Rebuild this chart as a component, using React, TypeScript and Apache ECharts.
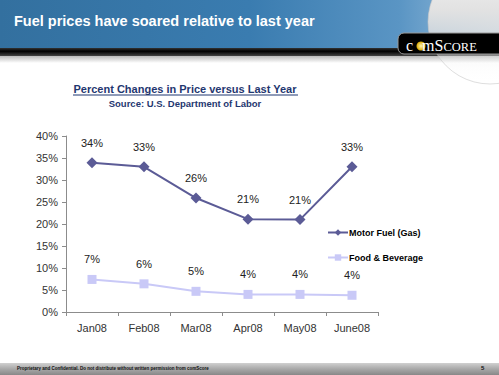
import React, { useEffect, useRef } from "react";
import * as echarts from "echarts";

const categories = ["Jan08", "Feb08", "Mar08", "Apr08", "May08", "June08"];
const motorFuel = [33.9, 33.0, 25.9, 21.1, 21.0, 33.0];
const foodBeverage = [7.4, 6.4, 4.7, 4.0, 4.0, 3.8];
const yTicks = { min: 0, max: 40, interval: 5 };

const FONT = "'Liberation Sans', Arial, sans-serif";

export default function App() {
  const ref = useRef<HTMLDivElement>(null);
  useEffect(() => {
    if (!ref.current) return;
    const chart = echarts.init(ref.current, null, { renderer: "svg" });
    const lbl = (v: any) => Math.round(v.value) + "%";
    chart.setOption({
      animation: false,
      backgroundColor: "#ffffff",
      textStyle: { fontFamily: FONT },
      grid: { left: 66, right: 121, top: 136, bottom: 63, containLabel: false },
      xAxis: {
        type: "category",
        data: categories,
        boundaryGap: true,
        axisLine: { lineStyle: { color: "#8c8c8c", width: 1 } },
        axisTick: { show: true, length: 4, lineStyle: { color: "#8c8c8c" } },
        axisLabel: { color: "#333", fontSize: 11, margin: 10, fontFamily: FONT },
        splitLine: { show: false },
      },
      yAxis: {
        type: "value",
        min: yTicks.min,
        max: yTicks.max,
        interval: yTicks.interval,
        axisLine: { show: true, lineStyle: { color: "#8c8c8c", width: 1 } },
        axisTick: { show: true, length: 4, lineStyle: { color: "#8c8c8c" } },
        axisLabel: { color: "#333", fontSize: 11, margin: 8, formatter: "{value}%", fontFamily: FONT },
        splitLine: { show: false },
      },
      legend: {
        orient: "vertical",
        left: 322,
        top: 223,
        itemGap: 16,
        itemWidth: 20,
        itemHeight: 8,
        textStyle: { color: "#000", fontSize: 9, fontWeight: "bold", fontFamily: FONT, padding: [0, 0, 0, -4] },
        data: ["Motor Fuel (Gas)", "Food & Beverage"],
      },
      series: [
        {
          name: "Motor Fuel (Gas)",
          type: "line",
          data: motorFuel,
          symbol: "diamond",
          symbolSize: 11,
          itemStyle: { color: "#5b5b96" },
          lineStyle: { color: "#5b5b96", width: 2 },
          label: { show: true, position: "top", distance: 9, formatter: lbl, color: "#222", fontSize: 11, fontFamily: FONT },
        },
        {
          name: "Food & Beverage",
          type: "line",
          data: foodBeverage,
          symbol: "rect",
          symbolSize: 9,
          itemStyle: { color: "#c9c9f7" },
          lineStyle: { color: "#c9c9f7", width: 2 },
          label: { show: true, position: "top", distance: 10, formatter: lbl, color: "#222", fontSize: 11, fontFamily: FONT },
        },
      ],
      graphic: [
        // banner
        {
          type: "rect",
          shape: { x: 0, y: 0, width: 499, height: 48 },
          style: {
            fill: new echarts.graphic.LinearGradient(0, 0, 1, 0, [
              { offset: 0, color: "#33709f" },
              { offset: 0.5, color: "#3a7cb0" },
              { offset: 0.8, color: "#5a95c4" },
              { offset: 1, color: "#9fc2de" },
            ]),
          },
          z: 100,
        },
        {
          type: "rect",
          shape: { x: 0, y: 48, width: 499, height: 8 },
          style: {
            fill: new echarts.graphic.LinearGradient(0, 0, 0, 1, [
              { offset: 0, color: "#333" },
              { offset: 0.4, color: "#000" },
              { offset: 1, color: "#444" },
            ]),
          },
          z: 100,
        },
        {
          type: "rect",
          shape: { x: 0, y: 56, width: 499, height: 7 },
          style: {
            fill: new echarts.graphic.LinearGradient(0, 0, 0, 1, [
              { offset: 0, color: "#bbbbbb" },
              { offset: 1, color: "#ffffff" },
            ]),
          },
          z: 100,
        },
        // globe
        {
          type: "circle",
          shape: { cx: 490, cy: 22, r: 62 },
          style: {
            fill: new echarts.graphic.LinearGradient(0, 0, 0, 1, [
              { offset: 0, color: "#f4f4f4" },
              { offset: 0.4, color: "#e2e2e2" },
              { offset: 0.6, color: "rgba(225,225,225,0.8)" },
              { offset: 0.78, color: "rgba(240,240,240,0.4)" },
              { offset: 1, color: "rgba(255,255,255,0)" },
            ]),
            stroke: "rgba(200,200,200,0.6)",
            lineWidth: 1,
          },
          z: 101,
        },
        {
          type: "text",
          left: 14,
          top: 13,
          style: { text: "Fuel prices have soared relative to last year", fill: "#ffffff", font: "bold 14.5px 'Liberation Sans', Arial, sans-serif" },
          z: 102,
        },
        // logo box
        {
          type: "rect",
          shape: { x: 398, y: 33, width: 110, height: 21, r: 6 },
          style: { fill: "#000000", stroke: "#999", lineWidth: 1 },
          z: 103,
        },
        {
          type: "circle",
          shape: { cx: 421, cy: 46, r: 4.5 },
          style: {
            fill: new echarts.graphic.RadialGradient(0.5, 0.5, 0.5, [
              { offset: 0, color: "#fff6b0" },
              { offset: 1, color: "#d8a800" },
            ]),
          },
          z: 104,
        },
        {
          type: "text",
          left: 406,
          top: 37,
          style: {
            text: "{a|c}{b| }{a|mS}{c|CORE}",
            rich: {
              a: { fill: "#ffffff", font: "16px 'Liberation Serif', serif" },
              b: { fill: "#ffffff", font: "16px 'Liberation Serif', serif", width: 9 },
              c: { fill: "#ffffff", font: "12.5px 'Liberation Serif', serif", verticalAlign: "bottom" },
            },
          },
          z: 105,
        },
        // chart title
        {
          type: "text",
          x: 185,
          y: 89,
          style: {
            text: "Percent Changes in Price versus Last Year",
            fill: "#1f3770",
            font: "bold 11px 'Liberation Sans', Arial, sans-serif",
            align: "center",
            verticalAlign: "middle",
          },
          z: 100,
        },
        {
          type: "line",
          shape: { x1: 73, y1: 95, x2: 298, y2: 95 },
          style: { stroke: "#1f3770", lineWidth: 1 },
          z: 100,
        },
        {
          type: "text",
          x: 185,
          y: 103,
          style: {
            text: "Source: U.S. Department of Labor",
            fill: "#1f3770",
            font: "bold 9.5px 'Liberation Sans', Arial, sans-serif",
            align: "center",
            verticalAlign: "middle",
          },
          z: 100,
        },
        // footer
        {
          type: "rect",
          shape: { x: 0, y: 363, width: 499, height: 12 },
          style: {
            fill: new echarts.graphic.LinearGradient(0, 0, 0, 1, [
              { offset: 0, color: "#d0d0d0" },
              { offset: 0.5, color: "#a8a8a8" },
              { offset: 1, color: "#888888" },
            ]),
          },
          z: 100,
        },
        {
          type: "text",
          left: 17,
          top: 366,
          style: {
            text: "Proprietary and Confidential. Do not distribute without written permission from comScore",
            fill: "#111",
            font: "bold 4.5px 'Liberation Sans', Arial, sans-serif",
          },
          z: 101,
        },
        {
          type: "text",
          left: 481,
          top: 365,
          style: { text: "5", fill: "#111", font: "bold 6px 'Liberation Sans', Arial, sans-serif" },
          z: 101,
        },
      ],
    });
    return () => chart.dispose();
  }, []);
  return <div ref={ref} style={{ width: 499, height: 375, position: "absolute", left: 0, top: 0 }} />;
}
